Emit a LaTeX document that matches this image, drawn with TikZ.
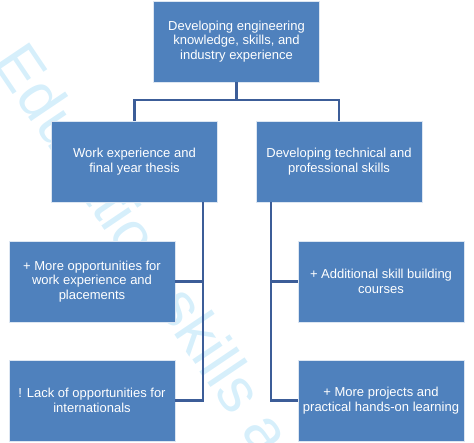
\documentclass[tikz,border=0pt]{standalone}
\usepackage{fontspec}
\setmainfont{Liberation Sans}
\usetikzlibrary{positioning}
\definecolor{boxblue}{RGB}{79,129,189}
\definecolor{lineblue}{RGB}{60,93,152}
\definecolor{wmark}{RGB}{214,239,251}

\begin{document}
\begin{tikzpicture}[x=1pt,y=-1pt,
	blu/.style={draw=white!80!boxblue,line width=0.6pt,fill=boxblue,
		text=white,minimum width=166pt,minimum height=81pt,inner sep=0pt,
		align=center,font=\fontsize{13}{14.5}\selectfont},
	conn/.style={draw=lineblue,line width=2.2pt}]
	\useasboundingbox (0,0) rectangle (474,443);
	% watermark
	\node[text=wmark,rotate=-56,anchor=west,inner sep=0pt,
		font=\fontsize{62}{62}\selectfont] (wm) at (10,50) {Education skills are};
	\node[blu] (t) at (236.5,41.5) {Developing engineering\\knowledge, skills, and\\industry experience};
	\node[blu] (l) at (134.5,161.5) {Work experience and\\final year thesis};
	\node[blu] (r) at (339,161.5) {Developing technical and\\professional skills};
	\node[blu] (l1) at (92,281.5) {+ More opportunities for\\work experience and\\placements};
	\node[blu] (l2) at (92,400.5) {! Lack of opportunities for\\internationals};
	\node[blu] (r1) at (381,281.5) {+ Additional skill building\\courses};
	\node[blu] (r2) at (381,400.5) {+ More projects and\\practical hands-on learning};
	\draw[conn] (t.south) -- ++(0,18) -| (l.north);
	\draw[conn] (t.south) -- ++(0,18) -| (r.north);
	\draw[conn] ([xshift=-15pt]l.south east) |- (l1.east);
	\draw[conn] ([xshift=-15pt]l.south east) |- (l2.east);
	\draw[conn] ([xshift=15pt]r.south west) |- (r1.west);
	\draw[conn] ([xshift=15pt]r.south west) |- (r2.west);
\end{tikzpicture}
\end{document}
